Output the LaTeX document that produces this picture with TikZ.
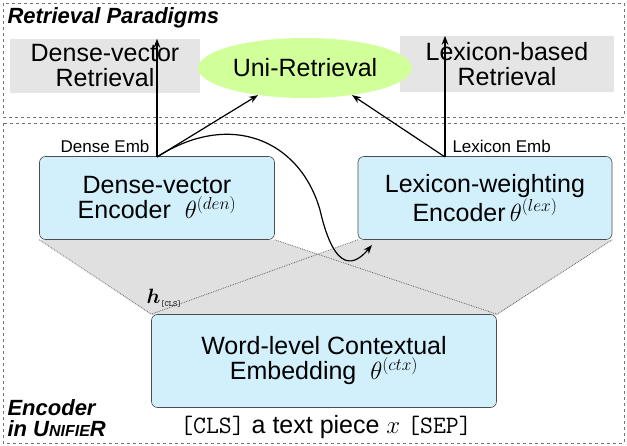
\documentclass[tikz,border=0pt]{standalone}
\usepackage{fontspec}
\setmainfont{Liberation Sans}
\usepackage{amsmath,bm}
\usetikzlibrary{arrows.meta, positioning, shapes.geometric}

\begin{document}
\begin{tikzpicture}[
    x=1pt, y=-1pt,
    big/.style = {font=\fontsize{25}{25}\selectfont},
    region/.style = {draw=black!55, dashed, line width=0.6pt},
    para/.style = {big, rectangle, fill=black!10, align=center, inner sep=1pt},
    enc/.style = {big, rectangle, draw=black!70, fill=cyan!18, rounded corners=6pt,
        align=center, line width=0.6pt},
    arr/.style = {-{Stealth[length=9pt]}, line width=1.2pt},
    link/.style = {densely dotted, draw=black!60, line width=0.8pt},
    tag/.style = {font=\fontsize{17}{17}\selectfont},
    title/.style = {font=\fontsize{22}{21}\selectfont\bfseries\itshape, anchor=west, align=left},
]
\useasboundingbox (0,0) rectangle (627,446);

% Regions
\draw[region] (3,3) rectangle (624,117);
\draw[region] (3,123) rectangle (624,443);
\node[title] (ptitle) at (4,18) {Retrieval Paradigms};
\node[title] (etitle) at (4,418) {Encoder\\in U{\fontsize{16}{16}\selectfont NIFIE}R};

% Paradigms
\node[para, minimum width=190, minimum height=54] (dret) at (105,66) {Dense-vector\\Retrieval};
\node[para, minimum width=214, minimum height=56] (lret) at (507,64) {Lexicon-based\\Retrieval};
\node[big, ellipse, fill=green!45!yellow!40, minimum width=200, minimum height=60] (uret) at (305,68) {Uni-Retrieval};

% Grey fans
\fill[black!12] (40,240) -- (275,240) -- (497,315) -- (152,315) -- cycle;
\fill[black!12] (358,240) -- (612,240) -- (497,315) -- (152,315) -- cycle;

% Encoders
\node[enc, minimum width=235, minimum height=83] (denc) at (157,198) {Dense-vector\\Encoder~ $\theta^{(den)}$};
\node[enc, minimum width=254, minimum height=83] (lenc) at (485,198) {Lexicon-weighting\\Encoder$\,\theta^{(lex)}$};
\node[enc, minimum width=345, minimum height=93] (wenc) at (324,361) {Word-level Contextual\\Embedding~ $\theta^{(ctx)}$};

\draw[link] (denc.south west) -- (wenc.north west);
\draw[link] (denc.south east) -- (wenc.north east);
\draw[link] (lenc.south west) -- (wenc.north west);
\draw[link] (lenc.south east) -- (wenc.north east);

% Embedding points
\coordinate (demb) at (157,157);
\coordinate (lemb) at (445,157);
\node[tag, anchor=east] (dlab) at (153,146) {Dense Emb};
\node[tag, anchor=west] (llab) at (449,146) {Lexicon Emb};
\node[anchor=west] (hcls) at (143,298) {\fontsize{22}{22}\selectfont$\bm{h}_{\texttt{\fontsize{8}{9}\selectfont[CLS]}}$};

% Arrows
\draw[arr] (demb) -- (dret.north -| demb);
\draw[arr] (demb) -- (uret.210);
\draw[arr] (lemb) -- (lret.north -| lemb);
\draw[arr] (lemb) -- (uret.330);
\draw[arr] (demb) .. controls (230,110) and (300,140) .. (320,210)
    .. controls (335,275) and (355,265) .. (372,245);

% Input text
\node[big] (input) at (326,427) {\texttt{[CLS]} a text piece $x$ \texttt{[SEP]}};
\end{tikzpicture}
\end{document}
